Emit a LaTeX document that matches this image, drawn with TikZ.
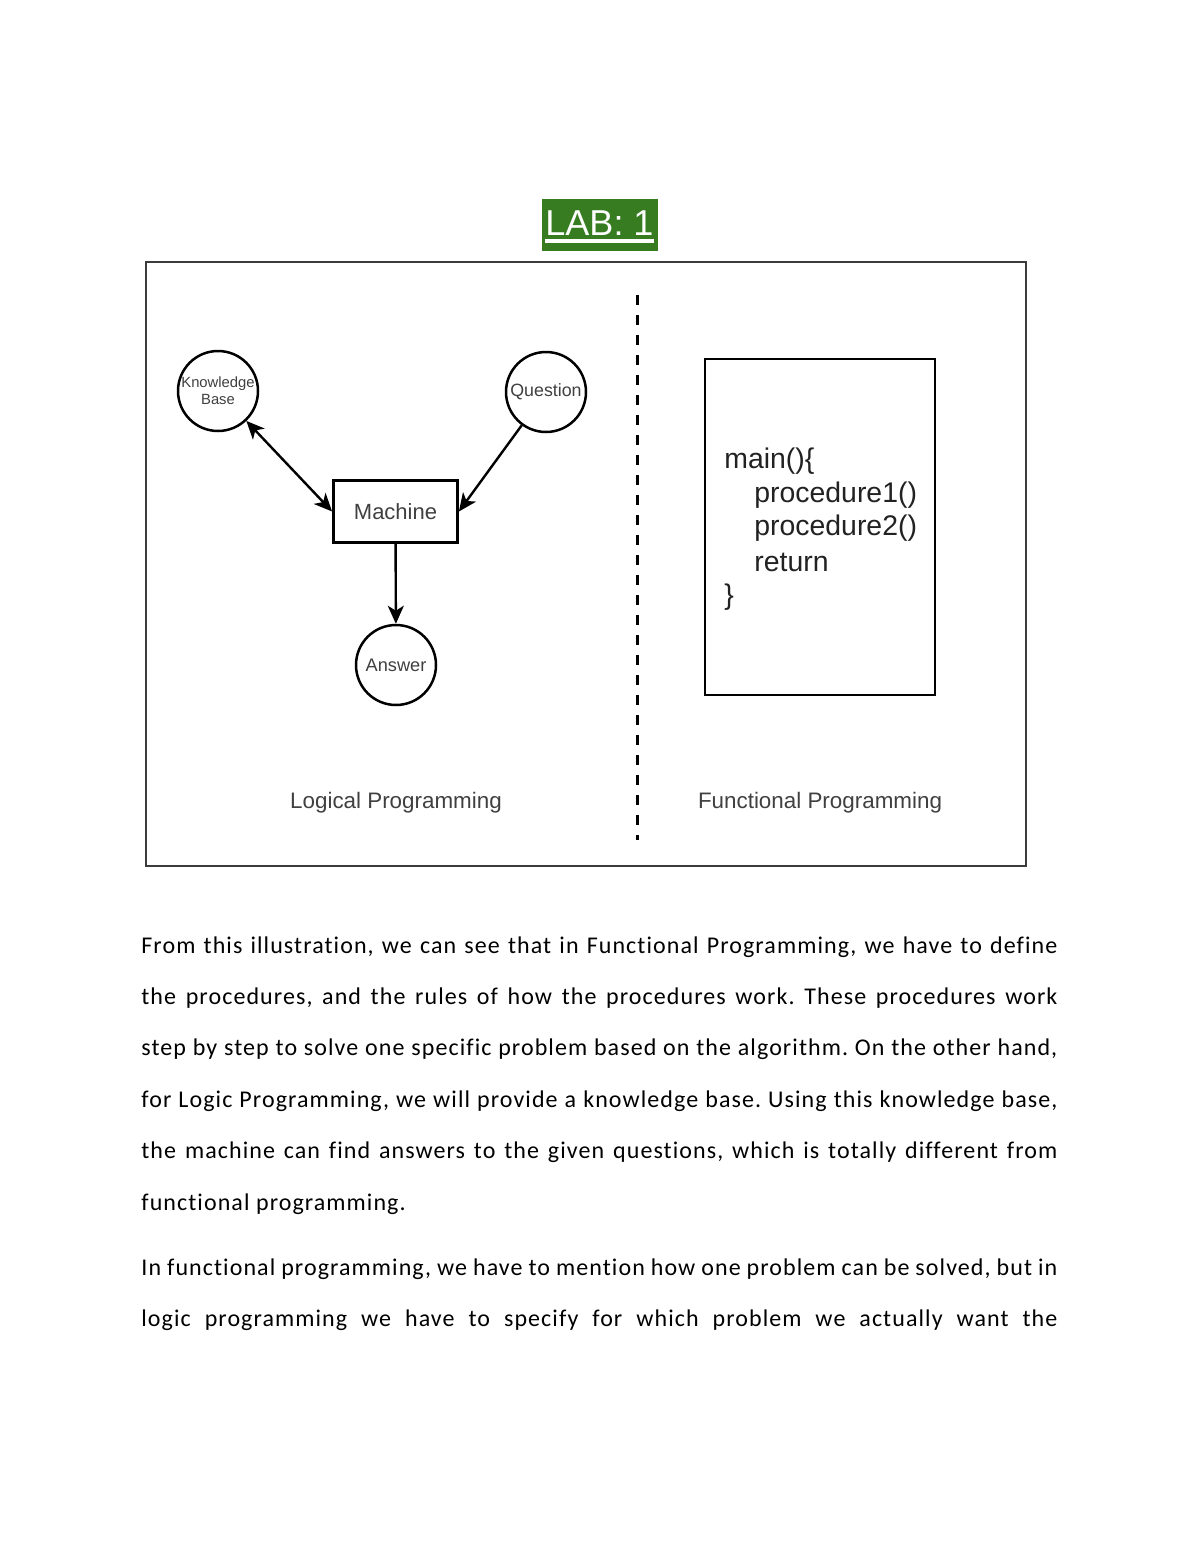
\documentclass[tikz,border=0pt]{standalone}
\usepackage{fontspec}
\usetikzlibrary{arrows.meta}
\newfontfamily\arialf{Liberation Sans}
\newfontfamily\bodyf[LetterSpace=4.5,Ligatures=NoCommon]{Carlito}
\definecolor{labgreen}{RGB}{56,124,34}
\definecolor{framegray}{RGB}{60,60,60}
\definecolor{labelgray}{RGB}{64,64,64}
\definecolor{codeblack}{RGB}{34,34,34}
\tikzset{
  circnode/.style={circle, draw=black, line width=1.25pt, minimum size=40pt, inner sep=0pt, text=labelgray, font=\arialf},
  boxnode/.style={rectangle, draw=black, line width=1.4pt, inner sep=0pt},
  arr/.style={line width=1.2pt, -{Stealth[length=9pt,width=8pt,inset=2.5pt]}},
  darr/.style={line width=1.2pt, {Stealth[length=9pt,width=8pt,inset=2.5pt]}-{Stealth[length=9pt,width=8pt,inset=2.5pt]}},
  sublabel/.style={font=\arialf\fontsize{11.2}{13}\selectfont, text=labelgray, inner sep=0pt},
  codeline/.style={font=\arialf\fontsize{14.2}{16}\selectfont, text=codeblack, inner sep=0pt, anchor=west},
  bodyline/.style={font=\bodyf\fontsize{12}{14}\selectfont\frenchspacing, text=black, inner sep=0pt, anchor=base west}
}
\begin{document}
\begin{tikzpicture}[x=0.5pt, y=-0.5pt]
\useasboundingbox (0,0) rectangle (1200,1553);
\fill[white] (0,0) rectangle (1200,1553);

% Title
\node[rectangle, fill=labgreen, minimum width=58pt, minimum height=26pt, inner sep=0pt] (titlebox) at (599.5,225) {};
\node[font=\arialf\fontsize{18}{20}\selectfont, text=white, inner sep=0pt] (title) at (599.5,223.5) {LAB: 1};
\coordinate (ulL) at (545,240.5);
\coordinate (ulR) at (654,240.5);
\draw[white, line width=2pt] (ulL) -- (ulR);

% Frame
\node[rectangle, draw=framegray, line width=0.8pt, minimum width=440pt, minimum height=302pt, inner sep=0pt] (frame) at (586,564) {};

% Divider
\coordinate (divtop) at (637,295);
\coordinate (divbot) at (637,840);
\draw[black, line width=1.5pt, dash pattern=on 5pt off 5pt] (divtop) -- (divbot);

% Logical programming graph
\node[circnode, align=center, font=\arialf\fontsize{7.4}{8.5}\selectfont] (kb) at (218,391) {Knowledge\\Base};
\node[circnode, font=\arialf\fontsize{8.9}{10}\selectfont] (q) at (546,392) {Question};
\node[boxnode, minimum width=62pt, minimum height=31pt, font=\arialf\fontsize{11}{13}\selectfont, text=labelgray] (machine) at (395.5,511.5) {Machine};
\node[circnode, font=\arialf\fontsize{9.1}{10}\selectfont] (ans) at (396,665) {Answer};

\draw[darr] (kb) -- (machine.west);
\draw[arr] (q) -- (machine.east);
\draw[arr] (machine) -- (ans);

% Functional programming box
\node[boxnode, minimum width=115pt, minimum height=168pt] (codebox) at (820,527) {};
\node[codeline] (c1) at (724,461) {main()\{};
\node[codeline] (c2) at (754,495) {procedure1()};
\node[codeline] (c3) at (754,528) {procedure2()};
\node[codeline] (c4) at (754,562) {return};
\node[codeline] (c5) at (724,597) {\}};

% Section labels
\node[sublabel] (llab) at (396,803) {Logical Programming};
\node[sublabel] (flab) at (820,803) {Functional Programming};

% Body text
\node[bodyline] (l1) at (141,953) {\makebox[458pt][s]{From this illustration, we can see that in Functional Programming, we have to define}};
\node[bodyline] (l2) at (141,1004) {\makebox[458pt][s]{the procedures, and the rules of how the procedures work. These procedures work}};
\node[bodyline] (l3) at (141,1055) {\makebox[458pt][s]{step by step to solve one specific problem based on the algorithm. On the other hand,}};
\node[bodyline] (l4) at (141,1107) {\makebox[458pt][s]{for Logic Programming, we will provide a knowledge base. Using this knowledge base,}};
\node[bodyline] (l5) at (141,1158) {\makebox[458pt][s]{the machine can find answers to the given questions, which is totally different from}};
\node[bodyline] (l6) at (141,1210) {functional programming.};
\node[bodyline] (l7) at (141,1275) {\makebox[458pt][s]{In functional programming, we have to mention how one problem can be solved, but in}};
\node[bodyline] (l8) at (141,1326) {\makebox[458pt][s]{logic programming we have to specify for which problem we actually want the}};
\end{tikzpicture}
\end{document}
